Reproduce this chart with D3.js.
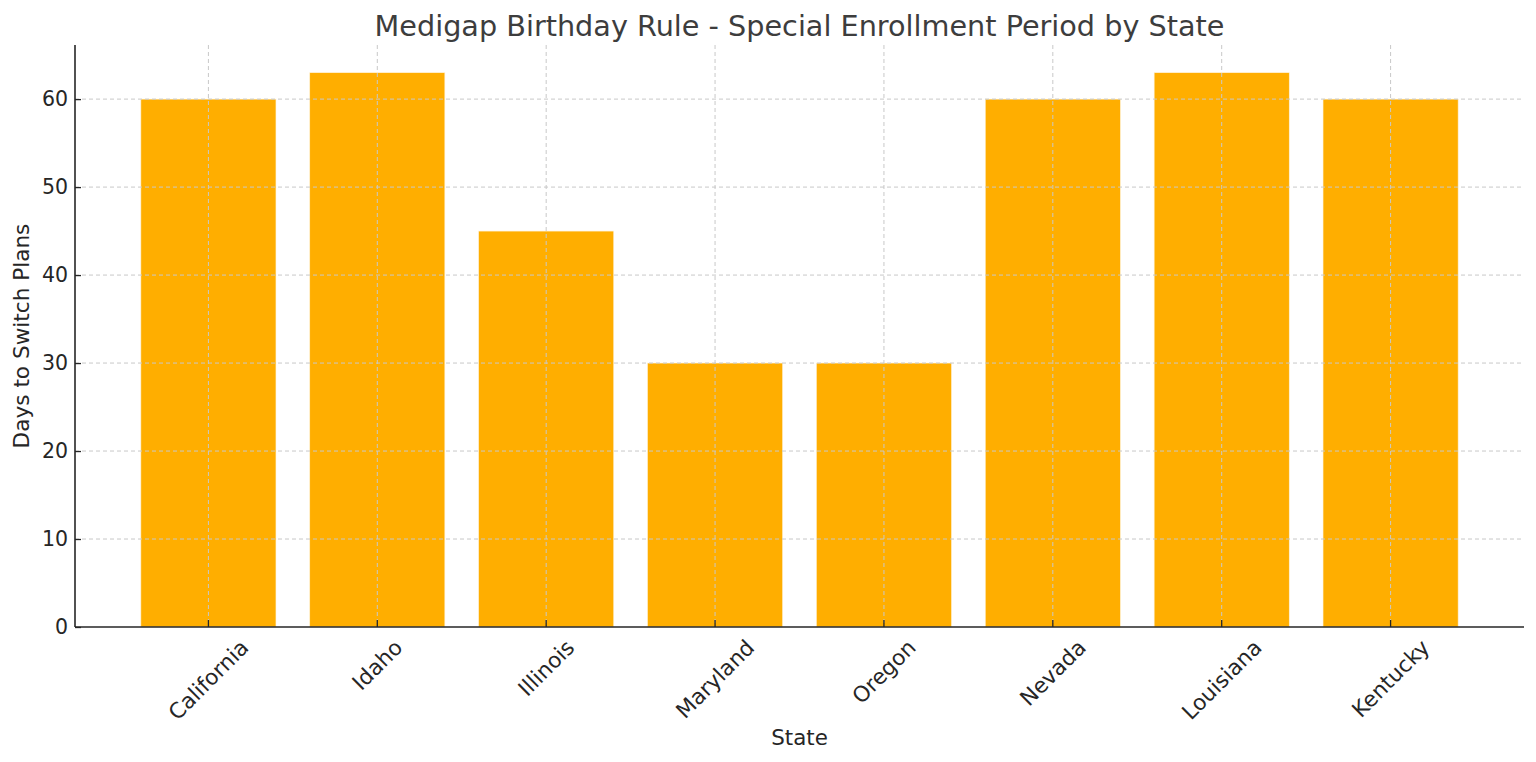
<!DOCTYPE html>
<html>
<head>
<meta charset="utf-8">
<script src="https://cdn.jsdelivr.net/npm/d3@7"></script>
<style>
  body { margin: 0; background: #fff; }
  svg { font-family: "DejaVu Sans", sans-serif; }
  .grid line { stroke: #c8c8c8; stroke-dasharray: 4,3; stroke-width: 1; }
</style>
</head>
<body>
<div id="chart"></div>
<script>
// data
const states = ["California", "Idaho", "Illinois", "Maryland", "Oregon", "Nevada", "Louisiana", "Kentucky"];
const days = [60, 63, 45, 30, 30, 60, 63, 60];
const yTicks = [0, 10, 20, 30, 40, 50, 60];

const W = 1536, H = 762;
const plotLeft = 75, plotRight = 1524, plotTop = 45, plotBottom = 627;

const svg = d3.select("#chart").append("svg")
   .attr("width", W)
   .attr("height", H);

// scales (matplotlib style margins)
const x = d3.scaleLinear()
   .domain([-0.79, states.length - 1 + 0.79])
   .range([plotLeft, plotRight]);
const y = d3.scaleLinear()
   .domain([0, d3.max(days) * 1.05])
   .range([plotBottom, plotTop]);
const barW = x(0.8) - x(0);

// bars
svg.selectAll("rect.bar")
   .data(days)
   .enter()
   .append("rect")
   .attr("class", "bar")
   .attr("x", (d, i) => x(i) - barW / 2)
   .attr("y", d => y(d))
   .attr("width", barW)
   .attr("height", d => y(0) - y(d))
   .attr("fill", "#ffae00")
   .attr("stroke", "#fff2d6")
   .attr("stroke-width", 0.6);

// grid on top
const grid = svg.append("g").attr("class", "grid");
grid.selectAll("line.h")
   .data(yTicks.slice(1))
   .enter().append("line")
   .attr("x1", plotLeft).attr("x2", plotRight)
   .attr("y1", d => y(d)).attr("y2", d => y(d));
grid.selectAll("line.v")
   .data(states)
   .enter().append("line")
   .attr("x1", (d, i) => x(i)).attr("x2", (d, i) => x(i))
   .attr("y1", plotTop).attr("y2", plotBottom);

// y axis (ticks inward)
const yAxis = d3.axisLeft(y)
   .tickValues(yTicks)
   .tickSize(-6)
   .tickPadding(7);
const gy = svg.append("g")
   .attr("transform", `translate(${plotLeft},0)`)
   .call(yAxis);
gy.select(".domain").attr("stroke", "#262626").attr("stroke-width", 1.6).attr("d", `M0,${plotTop}V${plotBottom}`);
gy.selectAll(".tick line").attr("stroke", "#262626").attr("stroke-width", 1.3);
gy.selectAll(".tick text").attr("fill", "#262626").style("font-size", "20.5px").style("font-family", "DejaVu Sans");

// x axis (ticks inward)
const gx = svg.append("g")
   .attr("transform", `translate(0,${plotBottom})`);
gx.append("line")
   .attr("x1", plotLeft).attr("x2", plotRight)
   .attr("stroke", "#262626").attr("stroke-width", 1.6);
gx.selectAll("line.tk")
   .data(states)
   .enter().append("line")
   .attr("x1", (d, i) => x(i)).attr("x2", (d, i) => x(i))
   .attr("y1", 0).attr("y2", -7)
   .attr("stroke", "#262626").attr("stroke-width", 1.3);

// rotated labels, bbox centered under tick
const lblSize = 21.6;
gx.selectAll("text.lbl")
   .data(states)
   .enter().append("text")
   .attr("class", "lbl")
   .attr("fill", "#262626")
   .style("font-size", lblSize + "px")
   .attr("text-anchor", "middle")
   .attr("dominant-baseline", "central")
   .text(d => d)
   .each(function(d, i) {
      const w = this.getComputedTextLength();
      const half = (w + lblSize) / (2 * Math.SQRT2);
      const cx = x(i), cy = 9 + half;
      d3.select(this).attr("transform", `translate(${cx},${cy}) rotate(-45)`);
   });

// axis titles
svg.append("text")
   .attr("x", (plotLeft + plotRight) / 2)
   .attr("y", 745)
   .attr("text-anchor", "middle")
   .attr("fill", "#262626")
   .style("font-size", "21.4px")
   .text("State");

svg.append("text")
   .attr("transform", `translate(29,${(plotTop + plotBottom) / 2}) rotate(-90)`)
   .attr("text-anchor", "middle")
   .attr("fill", "#262626")
   .style("font-size", "21.6px")
   .text("Days to Switch Plans");

// title
svg.append("text")
   .attr("x", (plotLeft + plotRight) / 2)
   .attr("y", 36)
   .attr("text-anchor", "middle")
   .attr("fill", "#3d3d3d")
   .style("font-size", "28.7px")
   .text("Medigap Birthday Rule - Special Enrollment Period by State");
</script>
</body>
</html>
